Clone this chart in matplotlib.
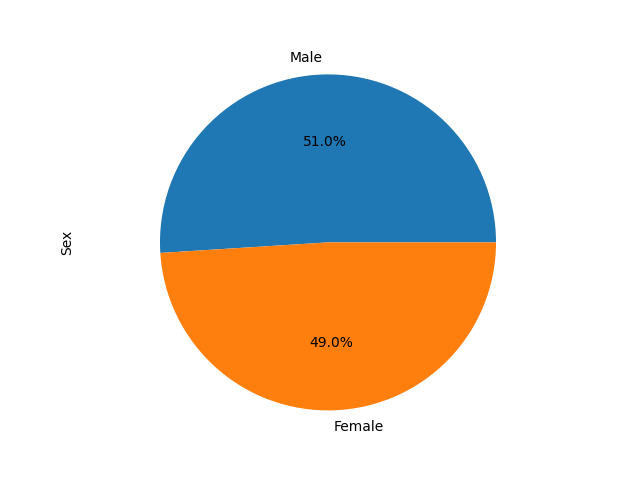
import matplotlib
matplotlib.use("Agg")
import matplotlib.pyplot as plt

labels = ["Male", "Female"]
values = [51.0, 49.0]

fig, ax = plt.subplots(figsize=(6.4, 4.8), dpi=100)
ax.pie(values, labels=labels, autopct="%1.1f%%")
ax.set_aspect("auto")
ax.set_ylim(-1.1, 1.1)
ax.set_xlim(-1.476, 1.476)
ax.set_ylabel("Sex")
fig.savefig("out.png")
